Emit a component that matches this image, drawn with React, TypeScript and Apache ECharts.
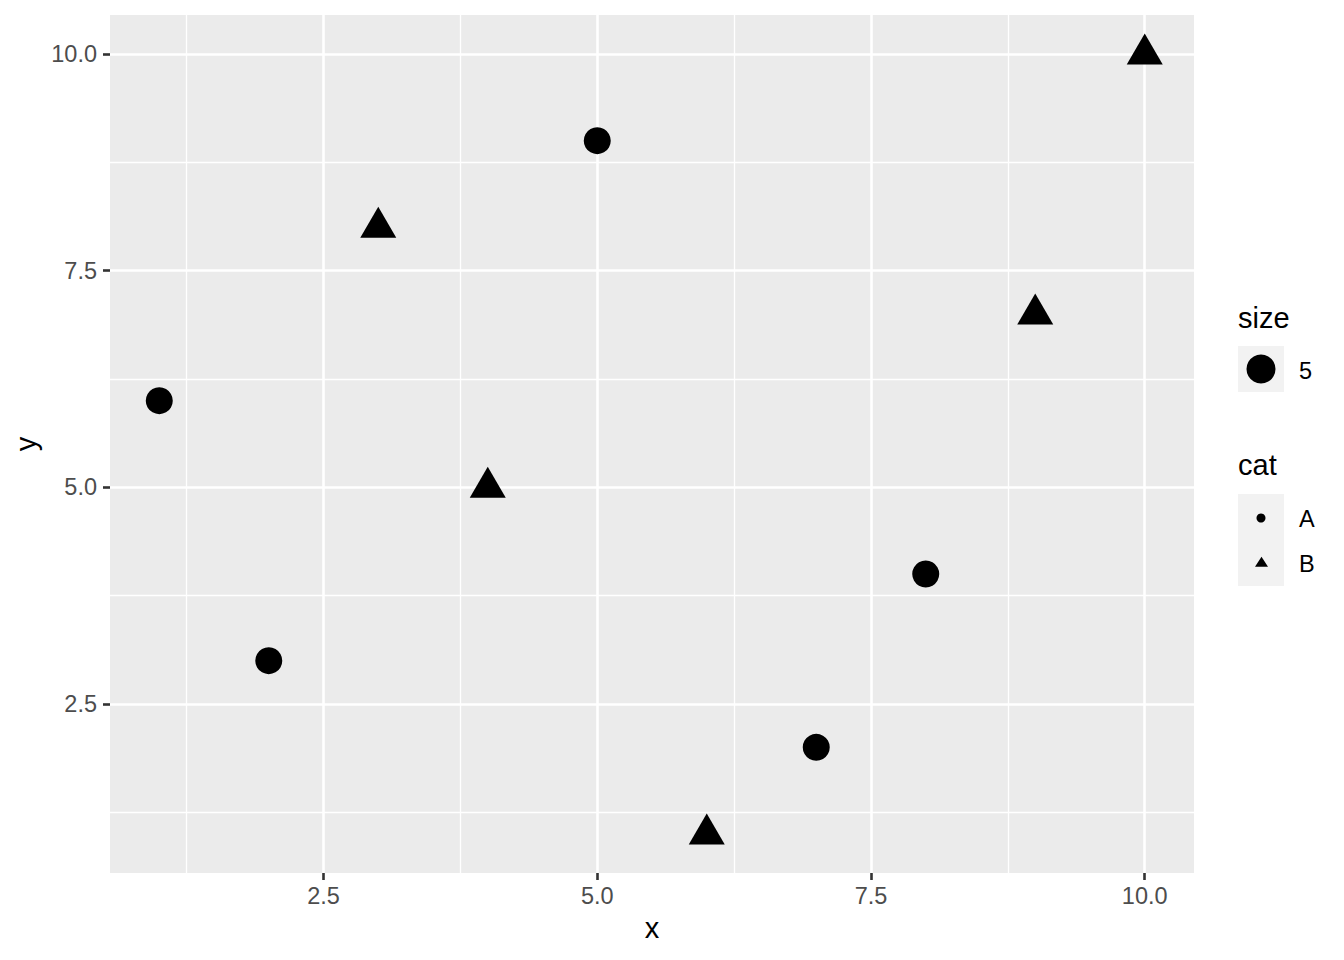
import React, { useEffect, useRef } from "react";
import * as echarts from "echarts";

const catA_x = [1, 2, 5, 7, 8];
const catA_y = [6, 3, 9, 2, 4];
const catB_x = [3, 4, 6, 9, 10];
const catB_y = [8, 5, 1, 7, 10];
const majorBreaks = [2.5, 5, 7.5, 10];
const minorBreaks = [1.25, 3.75, 6.25, 8.75];
const tickLabels = ["2.5", "5.0", "7.5", "10.0"];
const axisMin = 0.55;
const axisMax = 10.45;
const sizeLegendLabel = "5";
const catLabels = ["A", "B"];

const FONT = "Liberation Sans";
const TICK_FS = 23.5;
const TITLE_FS = 29;

export default function App() {
  const ref = useRef<HTMLDivElement>(null);
  useEffect(() => {
    if (!ref.current) return;
    const chart = echarts.init(ref.current, null, { renderer: "svg" });
    const fmt = (v: number) => {
      const i = majorBreaks.findIndex((b) => Math.abs(b - v) < 1e-9);
      return i >= 0 ? tickLabels[i] : "";
    };
    const gridLines = (axis: "xAxis" | "yAxis") => [
      ...minorBreaks.map((v) => ({ [axis]: v, lineStyle: { color: "#FFFFFF", width: 1.3, type: "solid" } })),
      ...majorBreaks.map((v) => ({ [axis]: v, lineStyle: { color: "#FFFFFF", width: 2.6, type: "solid" } })),
    ];
    const labelStyle = {
      customValues: majorBreaks,
      formatter: fmt,
      color: "#4D4D4D",
      fontSize: TICK_FS,
      fontFamily: FONT,
    };
    const axisCommon = {
      type: "value",
      min: axisMin,
      max: axisMax,
      axisLine: { show: false },
      splitLine: { show: false },
      axisTick: {
        show: true,
        customValues: majorBreaks,
        length: 7,
        lineStyle: { color: "#333333", width: 2.6 },
      },
      nameLocation: "middle",
      nameTextStyle: { color: "#000000", fontSize: TITLE_FS, fontFamily: FONT },
    };
    const txt = (text: string, x: number, y: number, size: number) => ({
      type: "text",
      x,
      y,
      style: { text, fontSize: size, fontFamily: FONT, fill: "#000", verticalAlign: "middle" },
    });
    chart.setOption({
      animation: false,
      textStyle: { fontFamily: FONT },
      grid: {
        left: 110,
        top: 15,
        width: 1084,
        height: 858,
        show: true,
        backgroundColor: "#EBEBEB",
        borderWidth: 0,
      },
      xAxis: {
        ...axisCommon,
        name: "x",
        nameGap: 40,
        axisLabel: { ...labelStyle, margin: 11 },
      },
      yAxis: {
        ...axisCommon,
        name: "y",
        nameGap: 62,
        nameRotate: 90,
        axisLabel: { ...labelStyle, margin: 13 },
      },
      series: [
        {
          type: "scatter",
          data: [],
          z: 1,
          silent: true,
          markLine: {
            z: 1,
            silent: true,
            symbol: ["none", "none"],
            label: { show: false },
            data: [...gridLines("xAxis"), ...gridLines("yAxis")],
          },
        },
        {
          name: catLabels[0],
          type: "scatter",
          z: 10,
          symbol: "circle",
          symbolSize: 27,
          itemStyle: { color: "#000000", opacity: 1 },
          data: catA_x.map((x, i) => [x, catA_y[i]]),
        },
        {
          name: catLabels[1],
          type: "scatter",
          z: 10,
          symbol: "triangle",
          symbolSize: [36, 31],
          symbolOffset: [0, -5],
          itemStyle: { color: "#000000", opacity: 1 },
          data: catB_x.map((x, i) => [x, catB_y[i]]),
        },
      ],
      graphic: [
        txt("size", 1238, 318, TITLE_FS),
        { type: "rect", shape: { x: 1238, y: 346, width: 46, height: 46 }, style: { fill: "#F2F2F2" } },
        { type: "circle", shape: { cx: 1261, cy: 369, r: 14.5 }, style: { fill: "#000" } },
        txt(sizeLegendLabel, 1299, 370.5, TICK_FS),
        txt("cat", 1238, 465, TITLE_FS),
        { type: "rect", shape: { x: 1238, y: 494, width: 46, height: 92 }, style: { fill: "#F2F2F2" } },
        { type: "circle", shape: { cx: 1261, cy: 518, r: 4.5 }, style: { fill: "#000" } },
        {
          type: "polygon",
          shape: { points: [[1261.5, 556.7], [1255, 566.7], [1268, 566.7]] },
          style: { fill: "#000" },
        },
        txt(catLabels[0], 1299, 518.5, TICK_FS),
        txt(catLabels[1], 1299, 564, TICK_FS),
      ],
    });
    return () => chart.dispose();
  }, []);
  return (
    <div
      ref={ref}
      style={{ position: "fixed", left: 0, top: 0, width: 1344, height: 960, background: "#fff" }}
    />
  );
}
